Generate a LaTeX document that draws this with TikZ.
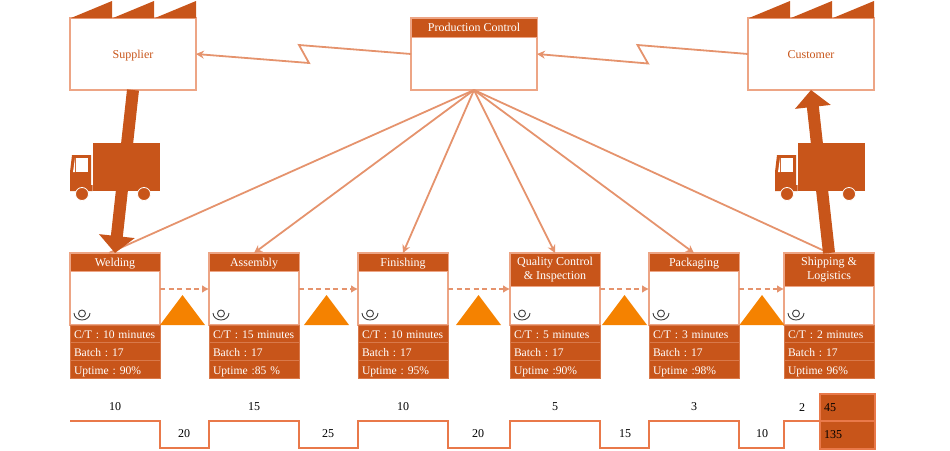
\documentclass[tikz,border=0pt]{standalone}
\usepackage{fontspec}
\setmainfont{Liberation Serif}
\usepackage{xcolor}
\definecolor{rust}{HTML}{C8551A}
\definecolor{edgeline}{HTML}{EDA585}
\definecolor{linkline}{HTML}{E5936D}
\definecolor{timeline}{HTML}{E9794A}
\definecolor{kaizen}{HTML}{F58200}
\definecolor{iconline}{HTML}{404040}
\usepackage{tikz}
\usetikzlibrary{arrows.meta}
\frenchspacing
\tikzset{
  plainbox/.style={draw=edgeline, line width=1.1pt, fill=white, minimum width=126pt, minimum height=72pt, inner sep=0pt, outer sep=0pt, text height=8pt, text depth=0pt, font=\fontsize{12}{14}\selectfont, text=rust},
  headbox/.style={draw=edgeline, line width=.6pt, fill=rust, text=white, align=center, inner sep=0pt, outer sep=0pt, font=\fontsize{12}{14}\selectfont, execute at begin node={\rule[-3pt]{0pt}{14pt}}},
  procbody/.style={draw=edgeline, line width=1.1pt, fill=white, minimum width=90pt, minimum height=72pt, inner sep=0pt, outer sep=0pt},
  datarow/.style={draw=edgeline!45!rust, line width=.5pt, fill=rust, text=white, minimum width=90pt, text width=82pt, minimum height=18pt, text height=9.4pt, text depth=0pt, align=left, inner xsep=4pt, inner ysep=0pt, outer sep=0pt, font=\fontsize{11.6}{14}\selectfont},
  thinlink/.style={draw=linkline, line width=1.8pt, line join=miter},
  pushlink/.style={draw=linkline, line width=1.5pt, dash pattern=on 5pt off 3.5pt, -{Latex[length=7pt,width=8pt]}},
  fatarrow/.style={draw=rust, line width=12pt, -{Triangle[length=17pt,width=35pt]}},
  smalltip/.style={-{Stealth[length=8pt,width=8pt]}},
  timenum/.style={font=\fontsize{12}{14}\selectfont, text=black, inner sep=0pt},
  sumbox/.style={draw=timeline, line width=1.8pt, fill=rust, text=black, minimum width=55pt, minimum height=27.5pt, text width=47pt, align=left, inner xsep=4pt, inner ysep=0pt, outer sep=0pt, font=\fontsize{12}{14}\selectfont},
}
\begin{document}
\begin{tikzpicture}[x=1pt,y=-1pt]
  \useasboundingbox (0,0) rectangle (950,450);
  % outside boxes
  \node[plainbox] (supplier) at (133,54) {Supplier};
  \node[plainbox] (customer) at (811,54) {Customer};
  \node[plainbox] (control) at (474,54) {};
  \node[headbox, minimum width=126pt, minimum height=19pt, anchor=north] (controlhead) at (474,18) {Production Control};
  \foreach \xpos in {71,113,155,749,791,833} {
    \fill[rust] (\xpos,18) -- ++(41,-17) -- ++(0,17) -- cycle;
  }
  % process boxes
  \foreach \name/\xpos/\hgt/\lab/\ct/\upt in {
      welding/115/18.5/Welding/10 minutes/Uptime : 90\%,
      assembly/254/18.5/Assembly/15 minutes/Uptime :85 \%,
      finishing/403/18.5/Finishing/10 minutes/Uptime : 95\%,
      quality/555/33/Quality Control\\\& Inspection/5 minutes/Uptime :90\%,
      packaging/694/18.5/Packaging/3 minutes/Uptime :98\%,
      shipping/829/33/Shipping \&\\Logistics/2 minutes/Uptime 96\%} {
    \node[procbody, anchor=north] (\name) at (\xpos,253) {};
    \node[headbox, minimum width=90pt, minimum height=\hgt pt, anchor=north] (\name head) at (\xpos,253) {\lab};
    \node[datarow, anchor=north] (\name ct) at (\xpos,325) {C/T : \ct};
    \node[datarow, anchor=north] (\name batch) at (\xpos,342.5) {Batch : 17};
    \node[datarow, anchor=north] (\name up) at (\xpos,360.5) {\upt};
    \draw[iconline, line width=.9pt] (\xpos-33,313.5) circle (3.5pt);
    \draw[iconline, line width=.9pt] (\xpos-41,313) arc[start angle=180, end angle=360, x radius=8pt, y radius=7pt];
  }
  % information links
  \coordinate (leftzig) at (299,45);
  \coordinate (leftzag) at (309,63);
  \coordinate (rightzig) at (637.5,45);
  \coordinate (rightzag) at (648,63.5);
  \draw[thinlink, smalltip] (control.west) -- (leftzig) -- (leftzag) -- (supplier.east);
  \draw[thinlink, smalltip] (customer.west) -- (rightzig) -- (rightzag) -- (control.east);
  \draw[thinlink] (control.south) -- ([xshift=-6pt]welding.north);
  \draw[thinlink] (control.south) -- (shipping.north);
  \foreach \name in {assembly,finishing,quality,packaging} {
    \draw[thinlink, smalltip] (control.south) -- (\name.north);
  }
  % push links and inventory triangles
  \foreach \from/\to in {welding/assembly,assembly/finishing,finishing/quality,quality/packaging,packaging/shipping} {
    \draw[pushlink] (\from) -- (\to);
  }
  \foreach \xpos in {160,304,456,602,739.5} {
    \fill[kaizen] (\xpos,325) -- ++(22.5,-30) -- ++(22.5,30) -- cycle;
  }
  % shipments
  \draw[fatarrow] (supplier.south) -- (welding.north);
  \draw[fatarrow] (shipping.north) -- (customer.south);
  \foreach \tx in {0,705} {
    \begin{scope}[xshift=\tx pt]
      \fill[rust] (92.5,143) rectangle (160,191);
      \fill[rust] (70,191) -- (70,172) -- (72,155) -- (91,155) -- (91,185) -- (92.5,185) -- (92.5,191) -- cycle;
      \fill[white] (76,158) rectangle (88,172);
      \fill[white] (73,172) -- (75,158) -- (75,172) -- cycle;
      \foreach \wx in {82,144} {
        \draw[white, fill=rust, line width=.8pt] (\wx,194) circle (6.5pt);
      }
    \end{scope}
  }
  % time line
  \draw[timeline, line width=2pt] (70,421) -- (160,421) -- (160,448) -- (209,448) -- (209,421) -- (299,421) -- (299,448) -- (358,448) -- (358,421) -- (448,421) -- (448,448) -- (510,448) -- (510,421) -- (600,421) -- (600,448) -- (649,448) -- (649,421) -- (739,421) -- (739,448) -- (784,448) -- (784,421) -- (820,421);
  \foreach \xpos/\ypos/\val [count=\i] in {115/406.5/10,184/433.5/20,254/406.5/15,328/433.5/25,403/406.5/10,478/433.5/20,555/406.5/5,625/433.5/15,694/406.5/3,762/433.5/10,802/407.5/2} {
    \node[timenum] (time\i) at (\xpos,\ypos) {\val};
  }
  \node[sumbox] (sumtop) at (847.5,407.5) {45};
  \node[sumbox] (sumbot) at (847.5,435) {135};
\end{tikzpicture}
\end{document}
